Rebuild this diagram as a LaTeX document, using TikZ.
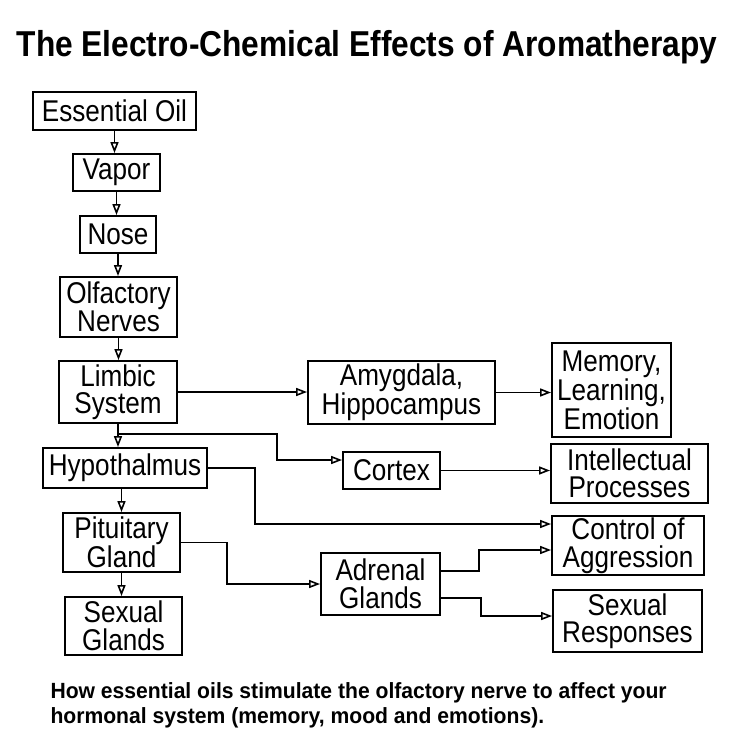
\documentclass[tikz,border=0pt]{standalone}
\usepackage{fontspec}
\setmainfont{Liberation Sans}
\newfontfamily\narrowfont{Liberation Sans}[FakeStretch=0.87]
\newfontfamily\headfont{Liberation Sans}[FakeStretch=0.88]
\newfontfamily\notefont{Liberation Sans}[FakeStretch=0.96]
\usetikzlibrary{arrows.meta}
\usetikzlibrary{calc}
\usepackage{xcolor}

\tikzset{
  box/.style={draw, line width=1.9pt, inner sep=0pt, align=center,
    font=\narrowfont\fontsize{30}{27.5}\selectfont},
  arr/.style={line width=1.6pt, -{Triangle[open, length=11pt, width=8pt]}},
  note/.style={anchor=base west, font=\notefont\bfseries\fontsize{22}{25}\selectfont}
}

\begin{document}
\begin{tikzpicture}[x=1pt, y=-1pt]

        \useasboundingbox[fill=white] (0,0) rectangle (737,743);

        % Title
        \node[anchor=base, font=\headfont\bfseries\fontsize{36}{40}\selectfont] (title) at (367,57)
          {The Electro-Chemical Effects of Aromatherapy};

        % Left column
        \node[box, minimum width=163, minimum height=38] (eoil)   at (114.5,111)   {Essential Oil};
        \node[box, minimum width=87,  minimum height=37] (vapor)  at (116.5,172.5) {Vapor};
        \node[box, minimum width=76,  minimum height=37] (nose)   at (118,234.5)   {Nose};
        \node[box, minimum width=117, minimum height=60] (olf)    at (118.5,307)   {Olfactory\\Nerves};
        \node[box, minimum width=118, minimum height=62] (limbic) at (118,392)     {Limbic\\System};
        \node[box, minimum width=164, minimum height=40] (hypo)   at (125,468)     {Hypothalmus};
        \node[box, minimum width=117, minimum height=59] (pit)    at (121.5,542.5) {Pituitary\\Gland};
        \node[box, minimum width=117, minimum height=58] (sexg)   at (123.5,626)   {Sexual\\Glands};

        % Middle column
        \node[box, minimum width=187, minimum height=63] (amyg)   at (401.5,392.5) {Amygdala,\\Hippocampus};
        \node[box, minimum width=97,  minimum height=37] (cortex) at (391.5,470.5) {Cortex};
        \node[box, minimum width=119, minimum height=62] (adren)  at (380.5,584)   {Adrenal\\Glands};

        % Right column
        \node[box, minimum width=119, minimum height=94] (mem)    at (611.5,390)   {Memory,\\Learning,\\Emotion};
        \node[box, minimum width=157, minimum height=59] (intel)  at (629.5,473.5) {Intellectual\\Processes};
        \node[box, minimum width=152, minimum height=59] (ctrl)   at (628,545.5)   {Control of\\Aggression};
        \node[box, minimum width=149, minimum height=62] (sexr)   at (627.5,621)   {Sexual\\Responses};

        % Down the left column
        \draw[arr] (eoil.south)   -- (eoil.south |- vapor.north);
        \draw[arr] (vapor.south)  -- (vapor.south |- nose.north);
        \draw[arr] (nose.south)   -- (nose.south |- olf.north);
        \draw[arr] (olf.south)    -- (olf.south |- limbic.north);
        \draw[arr] (limbic.south) -- (limbic.south |- hypo.north);
        \draw[arr] (pit.north |- hypo.south) -- (pit.north);
        \draw[arr] (pit.south)    -- (pit.south |- sexg.north);

        % Branches to the right
        \coordinate (lsplit) at ($(limbic.south)+(0,10)$);
        \draw[arr] (limbic.east) -- (limbic.east -| amyg.west);
        \draw[arr] (amyg.east) -- (amyg.east -| mem.west);
        \draw[arr] (lsplit) -- ++(159,0) |- ($(cortex.west)+(0,-10.5)$);
        \draw[arr] (cortex.east) -- (cortex.east -| intel.west);
        \draw[arr] (hypo.east) -- ++(47,0) |- ($(ctrl.west)+(0,-21.5)$);
        \draw[arr] (pit.east) -- ++(46,0) |- (adren.west);
        \draw[arr] ($(adren.east)+(0,-13)$) -- ++(38,0) |- ($(ctrl.west)+(0,4.5)$);
        \draw[arr] ($(adren.east)+(0,14)$) -- ++(40,0) |- ($(sexr.west)+(0,-5)$);

        % Caption
        \node[note] (cap1) at (47,698) {How essential oils stimulate the olfactory nerve to affect your};
        \node[note] (cap2) at (47,723) {hormonal system (memory, mood and emotions).};

\end{tikzpicture}
\end{document}
